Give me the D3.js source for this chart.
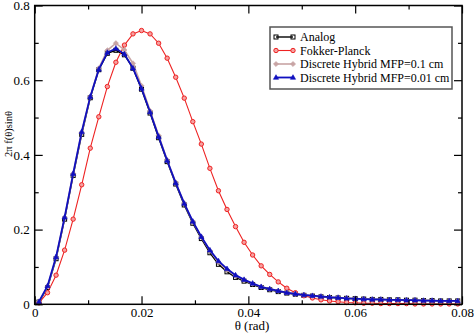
<!DOCTYPE html>
<html><head><meta charset="utf-8">
<script src="https://cdn.jsdelivr.net/npm/d3@7"></script>
<style>body{margin:0;background:#fff}svg{display:block}text{font-family:"Liberation Serif","Times New Roman",serif}</style>
</head><body>
<svg id="c" width="474" height="333"></svg>
<script>
// bin centres (rad)
const theta = [0.0008,0.0024,0.0040,0.0056,0.0072,0.0088,0.0104,0.0120,0.0136,0.0152,0.0168,0.0184,0.0200,0.0216,0.0232,0.0248,0.0264,0.0280,0.0296,0.0312,0.0328,0.0344,0.0360,0.0376,0.0392,0.0408,0.0424,0.0440,0.0456,0.0472,0.0488,0.0504,0.0520,0.0536,0.0552,0.0568,0.0584,0.0600,0.0616,0.0632,0.0648,0.0664,0.0680,0.0696,0.0712,0.0728,0.0744,0.0760,0.0776,0.0792];
const analog = [0.006,0.045,0.122,0.228,0.345,0.455,0.553,0.628,0.672,0.680,0.668,0.632,0.576,0.512,0.446,0.382,0.322,0.266,0.217,0.176,0.138,0.107,0.087,0.072,0.062,0.053,0.045,0.039,0.034,0.030,0.027,0.024,0.022,0.020,0.018,0.017,0.016,0.015,0.014,0.013,0.013,0.012,0.012,0.011,0.011,0.010,0.010,0.009,0.009,0.009];
const fokker = [0.004,0.031,0.078,0.145,0.228,0.320,0.418,0.502,0.583,0.648,0.694,0.724,0.733,0.724,0.699,0.659,0.608,0.552,0.489,0.429,0.364,0.304,0.254,0.208,0.166,0.132,0.103,0.080,0.060,0.043,0.031,0.023,0.017,0.012,0.009,0.007,0.005,0.004,0.003,0.003,0.002,0.002,0.002,0.002,0.001,0.001,0.001,0.001,0.001,0.001];
const hybrid01 = [0.007,0.048,0.125,0.232,0.350,0.460,0.556,0.632,0.680,0.699,0.681,0.645,0.585,0.518,0.452,0.386,0.326,0.270,0.221,0.180,0.143,0.113,0.092,0.076,0.065,0.055,0.047,0.041,0.036,0.031,0.028,0.025,0.023,0.021,0.019,0.018,0.016,0.015,0.014,0.013,0.013,0.012,0.012,0.011,0.011,0.010,0.010,0.009,0.009,0.009];
const hybrid001 = [0.007,0.049,0.127,0.233,0.350,0.462,0.556,0.629,0.674,0.685,0.670,0.632,0.578,0.515,0.449,0.385,0.325,0.270,0.222,0.181,0.145,0.116,0.095,0.078,0.066,0.056,0.047,0.041,0.036,0.031,0.028,0.025,0.023,0.021,0.019,0.018,0.016,0.015,0.014,0.013,0.013,0.012,0.012,0.011,0.011,0.010,0.010,0.009,0.009,0.009];
const seriesNames = ["Analog","Fokker-Planck","Discrete Hybrid MFP=0.1 cm","Discrete Hybrid MFP=0.01 cm"];
const xTicks = [0,0.02,0.04,0.06,0.08];
const xTickLabels = ["0","0.02","0.04","0.06","0.08"];
const yTicks = [0,0.2,0.4,0.6,0.8];
const yTickLabels = ["0","0.2","0.4","0.6","0.8"];
const xMinor = [0.01,0.03,0.05,0.07];
const yMinor = [0.1,0.3,0.5,0.7];

const svg = d3.select("#c");
const L=34.7, R=462, T=5.5, B=304.3;
const x = d3.scaleLinear().domain([0,0.08]).range([L,R]);
const y = d3.scaleLinear().domain([0,0.8]).range([B,T]);

const styles = [
  {data:analog, color:"#000000", lw:1.4, marker:"square"},
  {data:fokker, color:"#ee2222", lw:1.1, marker:"circle"},
  {data:hybrid01, color:"#c8a4a4", lw:1.6, marker:"diamond"},
  {data:hybrid001, color:"#1010c0", lw:1.8, marker:"triangle"}
];

function drawMarker(g, type, cx, cy, color){
  if(type==="square") g.append("rect").attr("x",cx-2).attr("y",cy-2).attr("width",4).attr("height",4).attr("fill","none").attr("stroke",color).attr("stroke-width",1);
  else if(type==="circle") g.append("circle").attr("cx",cx).attr("cy",cy).attr("r",2.2).attr("fill","#f6a0a0").attr("stroke",color).attr("stroke-width",1);
  else if(type==="diamond") g.append("path").attr("d",`M${cx},${cy-2.6}L${cx+2.6},${cy}L${cx},${cy+2.6}L${cx-2.6},${cy}Z`).attr("fill",color).attr("stroke",color).attr("stroke-width",0.6);
  else g.append("path").attr("d",`M${cx},${cy-2.8}L${cx+2.6},${cy+1.8}L${cx-2.6},${cy+1.8}Z`).attr("fill",color).attr("stroke",color).attr("stroke-width",0.6);
}

const line = d3.line().x((d,i)=>x(theta[i])).y(d=>y(d));
const plot = svg.append("g");
styles.forEach(s=>{
  plot.append("path").attr("d",line(s.data)).attr("fill","none").attr("stroke",s.color).attr("stroke-width",s.lw);
  const mg = plot.append("g");
  s.data.forEach((v,i)=>drawMarker(mg,s.marker,x(theta[i]),y(v),s.color));
});

// frame
svg.append("rect").attr("x",L).attr("y",T).attr("width",R-L).attr("height",B-T).attr("fill","none").attr("stroke","#000").attr("stroke-width",1.5);

// axes with inward ticks
const axB = d3.axisBottom(x).tickValues(xTicks).tickSize(-8).tickFormat((d,i)=>xTickLabels[i]).tickPadding(3);
svg.append("g").attr("transform",`translate(0,${B})`).call(axB);
svg.append("g").attr("transform",`translate(0,${T})`).call(d3.axisTop(x).tickValues(xTicks).tickSize(-8).tickFormat(""));
const axL = d3.axisLeft(y).tickValues(yTicks).tickSize(-8).tickFormat((d,i)=>yTickLabels[i]).tickPadding(5);
svg.append("g").attr("transform",`translate(${L},0)`).call(axL);
svg.append("g").attr("transform",`translate(${R},0)`).call(d3.axisRight(y).tickValues(yTicks).tickSize(-8).tickFormat(""));
// minor
svg.append("g").attr("transform",`translate(0,${B})`).call(d3.axisBottom(x).tickValues(xMinor).tickSize(-4).tickFormat(""));
svg.append("g").attr("transform",`translate(0,${T})`).call(d3.axisTop(x).tickValues(xMinor).tickSize(-4).tickFormat(""));
svg.append("g").attr("transform",`translate(${L},0)`).call(d3.axisLeft(y).tickValues(yMinor).tickSize(-4).tickFormat(""));
svg.append("g").attr("transform",`translate(${R},0)`).call(d3.axisRight(y).tickValues(yMinor).tickSize(-4).tickFormat(""));
svg.selectAll(".domain").remove();
svg.selectAll(".tick line").attr("stroke","#000").attr("stroke-width",1.2);
svg.selectAll(".tick text").attr("font-size",13).attr("fill","#000");

// axis labels
svg.append("text").attr("x",252).attr("y",330).attr("text-anchor","middle").attr("font-size",13).text("θ (rad)");
svg.append("text").attr("transform","translate(12,134) rotate(-90)").attr("text-anchor","middle").attr("font-size",10.5).text("2π f(θ)sinθ");

// legend
const lg = svg.append("g");
lg.append("rect").attr("x",270).attr("y",27).attr("width",182).attr("height",62).attr("fill","#fff").attr("stroke","#555").attr("stroke-width",1.5);
const rowsY = [37,50.5,64,77.5];
styles.forEach((s,i)=>{
  const yy = rowsY[i];
  lg.append("line").attr("x1",276).attr("x2",293).attr("y1",yy).attr("y2",yy).attr("stroke",s.color).attr("stroke-width",s.lw);
  drawMarker(lg,s.marker,276,yy,s.color);
  drawMarker(lg,s.marker,293,yy,s.color);
  lg.append("text").attr("x",300).attr("y",yy+4.3).attr("font-size",12).text(seriesNames[i]);
});
</script>
</body></html>
